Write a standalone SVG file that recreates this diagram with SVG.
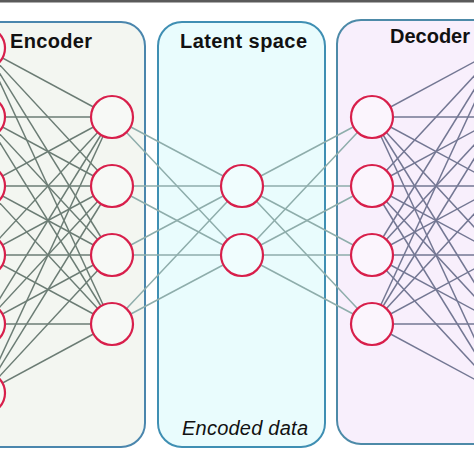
<svg xmlns="http://www.w3.org/2000/svg" width="474" height="474" viewBox="0 0 474 474">
<style>
.box{stroke-width:2}
.enc{fill:#f3f6f1;stroke:#4a86ad}
.lat{fill:#e9fcfd;stroke:#3f8fb3}
.dec{fill:#f8effc;stroke:#4d8aa8}
.node{stroke:#d81f4b;stroke-width:2.2}
.ne{fill:#f7f9f6}
.nl{fill:#f0fdfe}
.nd{fill:#fbf5fd}
.le{stroke:#6b7c74;stroke-width:1.5}
.ll{stroke:#8eadab;stroke-width:1.5}
.ld{stroke:#737793;stroke-width:1.5}
.title{font-family:"Liberation Sans",Arial,sans-serif;font-weight:bold;font-size:20px;fill:#111}
.sub{font-family:"Liberation Sans",Arial,sans-serif;font-style:italic;font-size:20px;fill:#111}
</style>
<rect x="0" y="0" width="474" height="2.5" fill="#5a5a5a"/>
<g id="encoder-box"><rect class="box enc" x="-30" y="22" width="175" height="425" rx="24"/></g>
<g id="latent-box"><rect class="box lat" x="158" y="22" width="167" height="425" rx="24"/></g>
<g id="decoder-box"><rect class="box dec" x="337" y="20" width="175" height="424" rx="24"/></g>
<g id="connectors">
<g class="le">
<line x1="-16" y1="48" x2="112" y2="117"/><line x1="-16" y1="48" x2="112" y2="186"/><line x1="-16" y1="48" x2="112" y2="255"/><line x1="-16" y1="48" x2="112" y2="324"/>
<line x1="-16" y1="117" x2="112" y2="117"/><line x1="-16" y1="117" x2="112" y2="186"/><line x1="-16" y1="117" x2="112" y2="255"/><line x1="-16" y1="117" x2="112" y2="324"/>
<line x1="-16" y1="186" x2="112" y2="117"/><line x1="-16" y1="186" x2="112" y2="186"/><line x1="-16" y1="186" x2="112" y2="255"/><line x1="-16" y1="186" x2="112" y2="324"/>
<line x1="-16" y1="255" x2="112" y2="117"/><line x1="-16" y1="255" x2="112" y2="186"/><line x1="-16" y1="255" x2="112" y2="255"/><line x1="-16" y1="255" x2="112" y2="324"/>
<line x1="-16" y1="324" x2="112" y2="117"/><line x1="-16" y1="324" x2="112" y2="186"/><line x1="-16" y1="324" x2="112" y2="255"/><line x1="-16" y1="324" x2="112" y2="324"/>
<line x1="-16" y1="393" x2="112" y2="117"/><line x1="-16" y1="393" x2="112" y2="186"/><line x1="-16" y1="393" x2="112" y2="255"/><line x1="-16" y1="393" x2="112" y2="324"/>
</g>
<g class="ll">
<line x1="112" y1="117" x2="242" y2="186"/><line x1="112" y1="117" x2="242" y2="255"/>
<line x1="112" y1="186" x2="242" y2="186"/><line x1="112" y1="186" x2="242" y2="255"/>
<line x1="112" y1="255" x2="242" y2="186"/><line x1="112" y1="255" x2="242" y2="255"/>
<line x1="112" y1="324" x2="242" y2="186"/><line x1="112" y1="324" x2="242" y2="255"/>
<line x1="242" y1="186" x2="372" y2="117"/><line x1="242" y1="186" x2="372" y2="186"/><line x1="242" y1="186" x2="372" y2="255"/><line x1="242" y1="186" x2="372" y2="324"/>
<line x1="242" y1="255" x2="372" y2="117"/><line x1="242" y1="255" x2="372" y2="186"/><line x1="242" y1="255" x2="372" y2="255"/><line x1="242" y1="255" x2="372" y2="324"/>
</g>
<g class="ld">
<line x1="372" y1="117" x2="500" y2="48"/><line x1="372" y1="117" x2="500" y2="117"/><line x1="372" y1="117" x2="500" y2="186"/><line x1="372" y1="117" x2="500" y2="255"/><line x1="372" y1="117" x2="500" y2="324"/><line x1="372" y1="117" x2="500" y2="393"/>
<line x1="372" y1="186" x2="500" y2="48"/><line x1="372" y1="186" x2="500" y2="117"/><line x1="372" y1="186" x2="500" y2="186"/><line x1="372" y1="186" x2="500" y2="255"/><line x1="372" y1="186" x2="500" y2="324"/><line x1="372" y1="186" x2="500" y2="393"/>
<line x1="372" y1="255" x2="500" y2="48"/><line x1="372" y1="255" x2="500" y2="117"/><line x1="372" y1="255" x2="500" y2="186"/><line x1="372" y1="255" x2="500" y2="255"/><line x1="372" y1="255" x2="500" y2="324"/><line x1="372" y1="255" x2="500" y2="393"/>
<line x1="372" y1="324" x2="500" y2="48"/><line x1="372" y1="324" x2="500" y2="117"/><line x1="372" y1="324" x2="500" y2="186"/><line x1="372" y1="324" x2="500" y2="255"/><line x1="372" y1="324" x2="500" y2="324"/><line x1="372" y1="324" x2="500" y2="393"/>
</g>
</g>
<g id="in1"><circle class="node ne" cx="-16" cy="48" r="21"/></g>
<g id="in2"><circle class="node ne" cx="-16" cy="117" r="21"/></g>
<g id="in3"><circle class="node ne" cx="-16" cy="186" r="21"/></g>
<g id="in4"><circle class="node ne" cx="-16" cy="255" r="21"/></g>
<g id="in5"><circle class="node ne" cx="-16" cy="324" r="21"/></g>
<g id="in6"><circle class="node ne" cx="-16" cy="393" r="21"/></g>
<g id="eh1"><circle class="node ne" cx="112" cy="117" r="21"/></g>
<g id="eh2"><circle class="node ne" cx="112" cy="186" r="21"/></g>
<g id="eh3"><circle class="node ne" cx="112" cy="255" r="21"/></g>
<g id="eh4"><circle class="node ne" cx="112" cy="324" r="21"/></g>
<g id="z1"><circle class="node nl" cx="242" cy="186" r="21"/></g>
<g id="z2"><circle class="node nl" cx="242" cy="255" r="21"/></g>
<g id="dh1"><circle class="node nd" cx="372" cy="117" r="21"/></g>
<g id="dh2"><circle class="node nd" cx="372" cy="186" r="21"/></g>
<g id="dh3"><circle class="node nd" cx="372" cy="255" r="21"/></g>
<g id="dh4"><circle class="node nd" cx="372" cy="324" r="21"/></g>
<g id="labels">
<text class="title" x="10" y="48" textLength="82">Encoder</text>
<text class="title" x="180" y="48" textLength="127">Latent space</text>
<text class="title" x="390" y="43">Decoder</text>
<text class="sub" x="182" y="435" textLength="126">Encoded data</text>
</g>
</svg>
